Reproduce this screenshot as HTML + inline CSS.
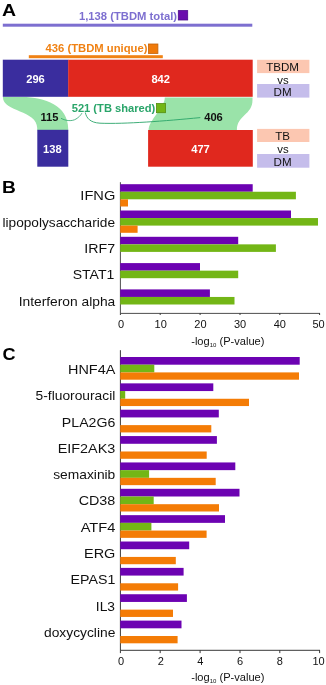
<!DOCTYPE html>
<html><head><meta charset="utf-8"><title>Figure</title>
<style>
html,body{margin:0;padding:0;background:#fff;}
svg{display:block;}
text{font-family:"Liberation Sans",sans-serif;}
.b{font-weight:bold;}
</style></head><body>
<svg width="326" height="685" viewBox="0 0 326 685">
<rect width="326" height="685" fill="#fff"/>

<text transform="translate(2.0 15.5) scale(1.16 1)" class="b" font-size="16.8" fill="#000">A</text>
<rect x="2.8" y="23.7" width="249.5" height="3" fill="#7d6fd0"/>
<text x="79" y="19.9" class="b" font-size="11.24" fill="#7d6fd0">1,138 (TBDM total)</text>
<rect x="178.3" y="10.6" width="9.4" height="9.4" fill="#6a0dad" stroke="#4b0a8c" stroke-width="0.8"/>
<rect x="28.8" y="55.2" width="134" height="3" fill="#f08214"/>
<text x="45.5" y="52.4" class="b" font-size="11.28" fill="#f08214">436 (TBDM unique)</text>
<rect x="148.5" y="44" width="9.4" height="9.4" fill="#f07a0a" stroke="#c06008" stroke-width="0.8"/>
<rect x="2.8" y="59.7" width="65.6" height="37.1" fill="#3a2d9e"/>
<rect x="68.2" y="59.7" width="184.5" height="37.1" fill="#e0281e"/>
<text x="35.5" y="82.5" text-anchor="middle" class="b" font-size="11.15" fill="#fff">296</text>
<text x="160.7" y="82.5" text-anchor="middle" class="b" font-size="11.15" fill="#fff">842</text>
<path d="M2.9 96.9 H22 C45 97 68.2 105.5 68.2 128.5 V130.3 H37.2 V128 C37.2 110 2.9 112 2.9 96.9 Z" fill="#9ae3a9"/>
<path d="M164.8 97.6 H252.5 V100 C252.5 115 236.9 115 236.9 130.3 H148.6 C148.6 120 164.8 108 164.8 97.6 Z" fill="#9ae3a9"/>
<rect x="37.3" y="129.8" width="31" height="36.9" fill="#3a2d9e"/>
<rect x="148.1" y="130" width="104.7" height="36.7" fill="#e0281e"/>
<text x="52.3" y="152.8" text-anchor="middle" class="b" font-size="11.15" fill="#fff">138</text>
<text x="200.5" y="152.8" text-anchor="middle" class="b" font-size="11.15" fill="#fff">477</text>
<text x="40.5" y="121.4" class="b" font-size="11.15" fill="#111">115</text>
<text x="204.2" y="120.5" class="b" font-size="11.15" fill="#111">406</text>
<text x="71.7" y="111.8" class="b" font-size="11.15" fill="#2aa56a">521 (TB shared)</text>
<rect x="156.4" y="103.5" width="9.2" height="9.2" fill="#73b616" stroke="#558c10" stroke-width="0.8"/>
<path d="M61 118.3 C66 121 72 121.5 76 119 C80 116.5 81 114.5 82 113" fill="none" stroke="#2aa56a" stroke-width="0.8"/>
<path d="M85.3 112.5 C86.5 118 90 122.6 100 123.2 C125 124.2 165 121 200.3 117.6" fill="none" stroke="#2aa56a" stroke-width="0.9"/>
<rect x="257.1" y="59.8" width="52.3" height="13.3" fill="#fcc7b1"/>
<text x="282.6" y="70.9" text-anchor="middle" font-size="11.6" fill="#111">TBDM</text>
<text x="282.9" y="83.6" text-anchor="middle" font-size="11.4" fill="#111">vs</text>
<rect x="257.1" y="84.0" width="52.3" height="13.6" fill="#c5bdeb"/>
<text x="282.6" y="95.6" text-anchor="middle" font-size="11.6" fill="#111">DM</text>
<rect x="257.1" y="128.9" width="52.3" height="13.1" fill="#fcc7b1"/>
<text x="282.6" y="140.2" text-anchor="middle" font-size="11.6" fill="#111">TB</text>
<text x="282.9" y="152.6" text-anchor="middle" font-size="11.4" fill="#111">vs</text>
<rect x="257.1" y="154.0" width="52.3" height="13.7" fill="#c5bdeb"/>
<text x="282.6" y="165.5" text-anchor="middle" font-size="11.6" fill="#111">DM</text>
<text transform="translate(2.0 192.6) scale(1.14 1)" class="b" font-size="16.8" fill="#000">B</text>
<path d="M120.4 182.2 V313.4 H320" fill="none" stroke="#3a3a3a" stroke-width="0.9"/>
<rect x="120.2" y="184.20" width="132.5" height="7.55" fill="#6c02b2"/>
<rect x="120.2" y="191.75" width="175.7" height="7.55" fill="#73b616"/>
<rect x="120.2" y="199.30" width="7.8" height="7.2" fill="#f47c06"/>
<text transform="translate(115.3 200.30) scale(1.1082 1)" text-anchor="end" font-size="13.2" fill="#111">IFNG</text>
<rect x="120.2" y="210.50" width="170.8" height="7.55" fill="#6c02b2"/>
<rect x="120.2" y="218.05" width="197.8" height="7.55" fill="#73b616"/>
<rect x="120.2" y="225.60" width="17.4" height="7.2" fill="#f47c06"/>
<text transform="translate(115.0 227.05) scale(1.0371 1)" text-anchor="end" font-size="13.2" fill="#111">lipopolysaccharide</text>
<rect x="120.2" y="236.80" width="118.0" height="7.55" fill="#6c02b2"/>
<rect x="120.2" y="244.35" width="155.7" height="7.55" fill="#73b616"/>
<text transform="translate(115.1 253.05) scale(1.0768 1)" text-anchor="end" font-size="13.2" fill="#111">IRF7</text>
<rect x="120.2" y="263.10" width="79.8" height="7.55" fill="#6c02b2"/>
<rect x="120.2" y="270.65" width="118.0" height="7.55" fill="#73b616"/>
<text transform="translate(114.3 279.20) scale(1.0664 1)" text-anchor="end" font-size="13.2" fill="#111">STAT1</text>
<rect x="120.2" y="289.40" width="89.7" height="7.55" fill="#6c02b2"/>
<rect x="120.2" y="296.95" width="114.3" height="7.55" fill="#73b616"/>
<text transform="translate(115.3 305.90) scale(1.0455 1)" text-anchor="end" font-size="13.2" fill="#111">Interferon alpha</text>
<path d="M120.4 313.4 v1.6" stroke="#222" stroke-width="0.9"/>
<text x="121.0" y="328.2" text-anchor="middle" font-size="11" fill="#111">0</text>
<path d="M160.2 313.4 v1.6" stroke="#222" stroke-width="0.9"/>
<text x="160.7" y="328.2" text-anchor="middle" font-size="11" fill="#111">10</text>
<path d="M200.1 313.4 v1.6" stroke="#222" stroke-width="0.9"/>
<text x="200.4" y="328.2" text-anchor="middle" font-size="11" fill="#111">20</text>
<path d="M240.0 313.4 v1.6" stroke="#222" stroke-width="0.9"/>
<text x="240.1" y="328.2" text-anchor="middle" font-size="11" fill="#111">30</text>
<path d="M279.8 313.4 v1.6" stroke="#222" stroke-width="0.9"/>
<text x="279.8" y="328.2" text-anchor="middle" font-size="11" fill="#111">40</text>
<path d="M319.6 313.4 v1.6" stroke="#222" stroke-width="0.9"/>
<text x="318.5" y="328.2" text-anchor="middle" font-size="11" fill="#111">50</text>
<text x="191.2" y="344.7" font-size="11.1" fill="#111">-log<tspan font-size="6" dy="2">10</tspan><tspan dy="-2"> (P-value)</tspan></text>
<text transform="translate(2.4 360.4) scale(1.05 1)" class="b" font-size="17.2" fill="#000">C</text>
<path d="M120.4 350.2 V650.3 H320" fill="none" stroke="#222" stroke-width="0.9"/>
<rect x="120.2" y="357.00" width="179.5" height="7.7" fill="#6c02b2"/>
<rect x="120.2" y="364.70" width="34.1" height="7.7" fill="#73b616"/>
<rect x="120.2" y="372.40" width="178.8" height="7.3" fill="#f47c06"/>
<text transform="translate(115.3 374.00) scale(1.0925 1)" text-anchor="end" font-size="13.2" fill="#111">HNF4A</text>
<rect x="120.2" y="383.36" width="93.1" height="7.7" fill="#6c02b2"/>
<rect x="120.2" y="391.06" width="5.0" height="7.7" fill="#73b616"/>
<rect x="120.2" y="398.76" width="128.8" height="7.3" fill="#f47c06"/>
<text transform="translate(115.3 400.29) scale(1.0455 1)" text-anchor="end" font-size="13.2" fill="#111">5-fluorouracil</text>
<rect x="120.2" y="409.72" width="98.6" height="7.7" fill="#6c02b2"/>
<rect x="120.2" y="425.12" width="91.1" height="7.3" fill="#f47c06"/>
<text transform="translate(115.3 426.58) scale(1.0716 1)" text-anchor="end" font-size="13.2" fill="#111">PLA2G6</text>
<rect x="120.2" y="436.08" width="96.7" height="7.7" fill="#6c02b2"/>
<rect x="120.2" y="451.48" width="86.5" height="7.3" fill="#f47c06"/>
<text transform="translate(115.3 453.07) scale(1.0925 1)" text-anchor="end" font-size="13.2" fill="#111">EIF2AK3</text>
<rect x="120.2" y="462.44" width="115.1" height="7.7" fill="#6c02b2"/>
<rect x="120.2" y="470.14" width="28.9" height="7.7" fill="#73b616"/>
<rect x="120.2" y="477.84" width="95.5" height="7.3" fill="#f47c06"/>
<text transform="translate(115.3 479.16) scale(1.0455 1)" text-anchor="end" font-size="13.2" fill="#111">semaxinib</text>
<rect x="120.2" y="488.80" width="119.3" height="7.7" fill="#6c02b2"/>
<rect x="120.2" y="496.50" width="33.5" height="7.7" fill="#73b616"/>
<rect x="120.2" y="504.20" width="98.8" height="7.3" fill="#f47c06"/>
<text transform="translate(115.3 505.45) scale(1.0873 1)" text-anchor="end" font-size="13.2" fill="#111">CD38</text>
<rect x="120.2" y="515.16" width="104.8" height="7.7" fill="#6c02b2"/>
<rect x="120.2" y="522.86" width="31.2" height="7.7" fill="#73b616"/>
<rect x="120.2" y="530.56" width="86.4" height="7.3" fill="#f47c06"/>
<text transform="translate(115.3 531.74) scale(1.1082 1)" text-anchor="end" font-size="13.2" fill="#111">ATF4</text>
<rect x="120.2" y="541.52" width="69.0" height="7.7" fill="#6c02b2"/>
<rect x="120.2" y="556.92" width="55.6" height="7.3" fill="#f47c06"/>
<text transform="translate(115.3 558.03) scale(1.0956 1)" text-anchor="end" font-size="13.2" fill="#111">ERG</text>
<rect x="120.2" y="567.88" width="63.4" height="7.7" fill="#6c02b2"/>
<rect x="120.2" y="583.28" width="57.9" height="7.3" fill="#f47c06"/>
<text transform="translate(115.3 584.32) scale(1.0768 1)" text-anchor="end" font-size="13.2" fill="#111">EPAS1</text>
<rect x="120.2" y="594.24" width="66.7" height="7.7" fill="#6c02b2"/>
<rect x="120.2" y="609.64" width="52.8" height="7.3" fill="#f47c06"/>
<text transform="translate(115.0 610.61) scale(1.0455 1)" text-anchor="end" font-size="13.2" fill="#111">IL3</text>
<rect x="120.2" y="620.60" width="61.3" height="7.7" fill="#6c02b2"/>
<rect x="120.2" y="636.00" width="57.4" height="7.3" fill="#f47c06"/>
<text transform="translate(115.3 636.90) scale(1.0455 1)" text-anchor="end" font-size="13.2" fill="#111">doxycycline</text>
<path d="M120.4 650.3 v2.8" stroke="#222" stroke-width="0.9"/>
<text x="121.0" y="665.1" text-anchor="middle" font-size="11" fill="#111">0</text>
<path d="M160.2 650.3 v2.8" stroke="#222" stroke-width="0.9"/>
<text x="160.7" y="665.1" text-anchor="middle" font-size="11" fill="#111">2</text>
<path d="M200.1 650.3 v2.8" stroke="#222" stroke-width="0.9"/>
<text x="200.4" y="665.1" text-anchor="middle" font-size="11" fill="#111">4</text>
<path d="M240.0 650.3 v2.8" stroke="#222" stroke-width="0.9"/>
<text x="240.1" y="665.1" text-anchor="middle" font-size="11" fill="#111">6</text>
<path d="M279.8 650.3 v2.8" stroke="#222" stroke-width="0.9"/>
<text x="279.8" y="665.1" text-anchor="middle" font-size="11" fill="#111">8</text>
<path d="M319.6 650.3 v2.8" stroke="#222" stroke-width="0.9"/>
<text x="318.5" y="665.1" text-anchor="middle" font-size="11" fill="#111">10</text>
<text x="191.2" y="680.8" font-size="11.1" fill="#111">-log<tspan font-size="6" dy="2">10</tspan><tspan dy="-2"> (P-value)</tspan></text>
</svg></body></html>
